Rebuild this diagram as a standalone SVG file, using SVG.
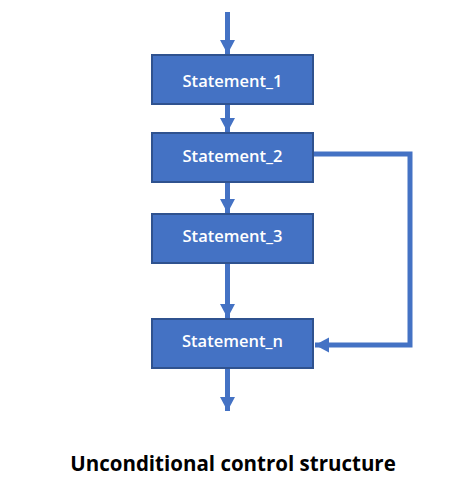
<svg xmlns="http://www.w3.org/2000/svg" width="473" height="500" viewBox="0 0 473 500">
<style>
.box{fill:#4472C4;stroke:#2F528F;stroke-width:2}
.lbl{fill:#fff;font-family:"Open Sans","Liberation Sans",sans-serif;font-weight:600;font-size:16.5px;text-anchor:middle;dominant-baseline:central}
.con{fill:none;stroke:#4472C4;stroke-width:5}
.title{fill:#000;font-family:"Open Sans","Liberation Sans",sans-serif;font-weight:bold;font-size:20.5px;text-anchor:middle}
</style>
<defs>
<marker id="ah" markerUnits="userSpaceOnUse" markerWidth="16" markerHeight="16" refX="14" refY="8" orient="auto">
<path d="M0,0.5 L14,8 L0,15.5 Z" fill="#4472C4"/>
</marker>
</defs>
<rect width="473" height="500" fill="#fff"/>
<g id="connectors">
<path class="con" d="M227.5,12 V54" marker-end="url(#ah)"/>
<path class="con" d="M227.5,105 V132" marker-end="url(#ah)"/>
<path class="con" d="M227.5,183 V213" marker-end="url(#ah)"/>
<path class="con" d="M227.5,264 V318" marker-end="url(#ah)"/>
<path class="con" d="M227.5,369 V411" marker-end="url(#ah)"/>
<path class="con" d="M314,154 H410 V345 H315" marker-end="url(#ah)"/>
</g>
<g id="n1"><rect class="box" x="152" y="55" width="161" height="49"/><text class="lbl" x="232.5" y="80">Statement_1</text></g>
<g id="n2"><rect class="box" x="152" y="133" width="161" height="49"/><text class="lbl" x="232.5" y="155">Statement_2</text></g>
<g id="n3"><rect class="box" x="152" y="214" width="161" height="49"/><text class="lbl" x="232.5" y="235">Statement_3</text></g>
<g id="nn"><rect class="box" x="152" y="319" width="161" height="49"/><text class="lbl" x="232.5" y="340">Statement_n</text></g>
<text class="title" x="233" y="471">Unconditional control structure</text>
</svg>
